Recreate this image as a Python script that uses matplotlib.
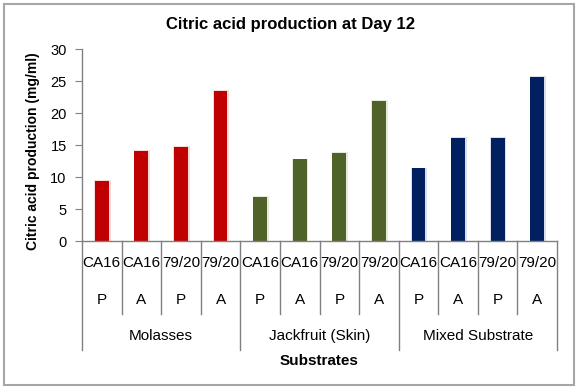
import matplotlib
matplotlib.use("Agg")
import matplotlib.pyplot as plt
from matplotlib.patches import Rectangle

plt.rcParams['font.family'] = ['Liberation Sans', 'DejaVu Sans']

# data
strains = ['CA16', 'CA16', '79/20', '79/20'] * 3
modes = ['P', 'A', 'P', 'A'] * 3
substrates = ['Molasses', 'Jackfruit (Skin)', 'Mixed Substrate']
values = [9.5, 14.2, 14.8, 23.5,
          7.0, 12.8, 13.8, 22.0,
          11.4, 16.2, 16.2, 25.7]
group_colors = ['#C00000', '#4F6228', '#002060']
shadow_colors = ['#F8DADA', '#E6EADC', '#DADFEC']

fig = plt.figure(figsize=(5.8, 3.9), dpi=100)
ax = fig.add_axes([0.1414, 0.3808, 0.8190, 0.4928])

xs = list(range(len(values)))
cols = [group_colors[i // 4] for i in xs]
shades = [shadow_colors[i // 4] for i in xs]

# soft halo behind the bars
ax.bar([x + 0.015 for x in xs], [v + 0.12 for v in values], width=0.41,
       color=shades, zorder=1)
ax.bar(xs, values, width=0.35, color=cols, zorder=2)

ax.set_xlim(-0.5, len(values) - 0.5)
ax.set_ylim(0, 30)
ax.set_yticks(range(0, 31, 5))
ax.set_xticks([])

gray = '#808080'
for s in ['top', 'right']:
    ax.spines[s].set_visible(False)
for s in ['left', 'bottom']:
    ax.spines[s].set_color(gray)
    ax.spines[s].set_linewidth(1.0)
ax.tick_params(axis='y', direction='out', length=5, color=gray,
               labelsize=10.5, pad=6)

# multi-level category axis
tr = ax.get_xaxis_transform()
for i in xs:
    ax.text(i, -0.11, strains[i], transform=tr, ha='center', va='center',
            fontsize=11)
    ax.text(i, -0.302, modes[i], transform=tr, ha='center', va='center',
            fontsize=11)
for k in range(len(values) + 1):
    b = k - 0.5
    bottom = -0.563 if k % 4 == 0 else -0.376
    ax.plot([b, b], [0, bottom], transform=tr, color=gray, lw=1.0,
            clip_on=False)
for g, name in enumerate(substrates):
    ax.text(g * 4 + 1.5, -0.49, name, transform=tr, ha='center',
            va='center', fontsize=11)

ax.text(0.5, -0.62, 'Substrates', transform=ax.transAxes, ha='center',
        va='center', fontsize=11, fontweight='bold')

fig.text(0.5, 1 - 25 / 390, 'Citric acid production at Day 12',
         ha='center', va='center', fontsize=12, fontweight='bold')
fig.text(33 / 580, 1 - 151 / 390, 'Citric acid production (mg/ml)',
         rotation=90, ha='center', va='center', fontsize=10,
         fontweight='bold')

# outer chart border
fig.patches.append(Rectangle((4 / 580, 5 / 390), 570 / 580, 381 / 390,
                             transform=fig.transFigure, fill=False,
                             edgecolor='#A6A6A6', linewidth=1.5))

fig.savefig('out.png', dpi=100)
